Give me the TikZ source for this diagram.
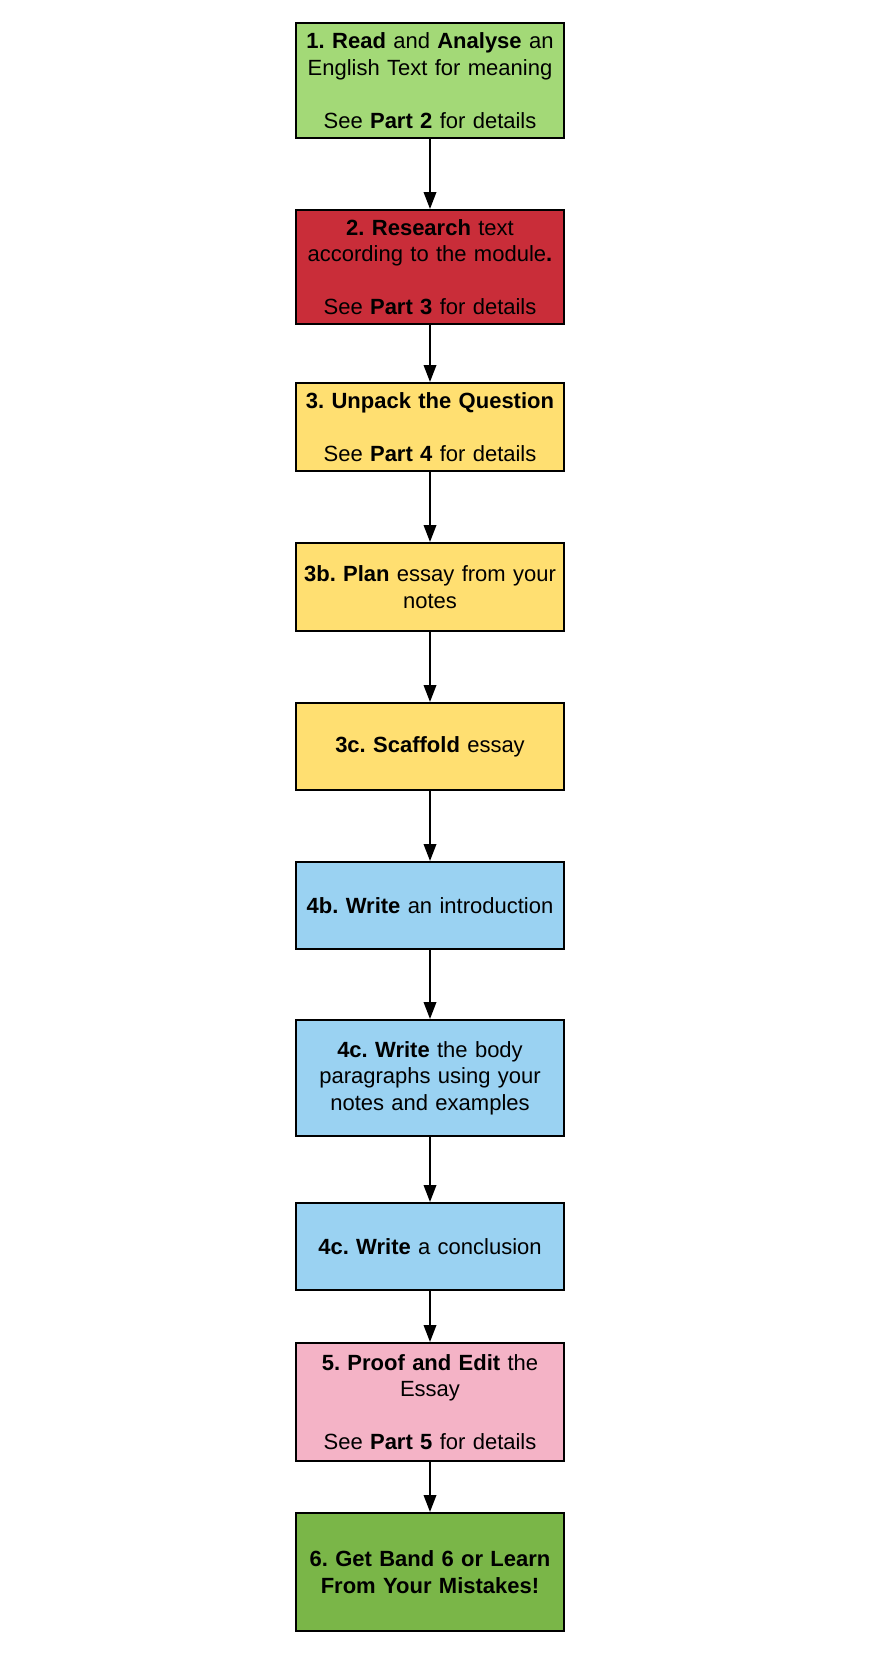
\documentclass[tikz,border=0pt]{standalone}
\usepackage{fontspec}
\setmainfont{Liberation Sans}
\usetikzlibrary{arrows.meta}
\definecolor{cgreen}{HTML}{A3D977}
\definecolor{cred}{HTML}{C92D39}
\definecolor{cyellow}{HTML}{FFDF71}
\definecolor{cblue}{HTML}{9AD2F2}
\definecolor{cpink}{HTML}{F4B3C6}
\definecolor{cdgreen}{HTML}{7AB648}
\frenchspacing
\begin{document}
\begin{tikzpicture}[x=1pt,y=-1pt,
  box/.style={draw=black, line width=2pt, minimum width=268pt, text width=262pt,
    align=center, inner sep=0pt, font=\fontsize{22}{26.5}\selectfont},
  arr/.style={line width=2pt, -{Triangle[length=17pt,width=12.5pt]}}]
\useasboundingbox (0,0) rectangle (870,1663);
\node[box, fill=cgreen, minimum height=115pt] (n1) at (430,80.5)
  {\textbf{1. Read} and \textbf{Analyse} an\\English Text for meaning\\[26.5pt]See \textbf{Part 2} for details};
\node[box, fill=cred, minimum height=114pt] (n2) at (430,267)
  {\textbf{2. Research} text\\according to the module\textbf{.}\\[26.5pt]See \textbf{Part 3} for details};
\node[box, fill=cyellow, minimum height=88pt] (n3) at (430,427)
  {\textbf{3. Unpack the Question}\\[26.5pt]See \textbf{Part 4} for details};
\node[box, fill=cyellow, minimum height=88pt] (n4) at (430,587)
  {\textbf{3b. Plan} essay from your\\notes};
\node[box, fill=cyellow, minimum height=87pt] (n5) at (430,746.5)
  {\textbf{3c. Scaffold} essay};
\node[box, fill=cblue, minimum height=87pt] (n6) at (430,905.5)
  {\textbf{4b. Write} an introduction};
\node[box, fill=cblue, minimum height=116pt] (n7) at (430,1078)
  {\textbf{4c. Write} the body\\paragraphs using your\\notes and examples};
\node[box, fill=cblue, minimum height=87pt] (n8) at (430,1246.5)
  {\textbf{4c. Write} a conclusion};
\node[box, fill=cpink, minimum height=118pt] (n9) at (430,1402)
  {\textbf{5. Proof and Edit} the\\Essay\\[26.5pt]See \textbf{Part 5} for details};
\node[box, fill=cdgreen, minimum height=118pt] (n10) at (430,1572)
  {\textbf{6. Get Band 6 or Learn}\\\textbf{From Your Mistakes!}};
\draw[arr] (n1.south) -- (n2.north);
\draw[arr] (n2.south) -- (n3.north);
\draw[arr] (n3.south) -- (n4.north);
\draw[arr] (n4.south) -- (n5.north);
\draw[arr] (n5.south) -- (n6.north);
\draw[arr] (n6.south) -- (n7.north);
\draw[arr] (n7.south) -- (n8.north);
\draw[arr] (n8.south) -- (n9.north);
\draw[arr] (n9.south) -- (n10.north);
\end{tikzpicture}
\end{document}
